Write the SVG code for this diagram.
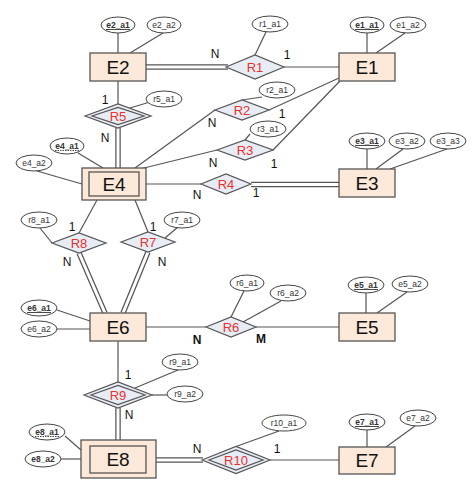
<svg xmlns="http://www.w3.org/2000/svg" width="474" height="493" viewBox="0 0 474 493">
<style>
.ent{fill:#fde9d9;stroke:#555;stroke-width:1.3}
.rel{fill:#e8ecf5;stroke:#555;stroke-width:1.2}
.att{fill:#fff;stroke:#444;stroke-width:1}
.ln{stroke:#555;stroke-width:1.2;fill:none}
.dbo{stroke:#555;stroke-width:5.5;fill:none}
.dbi{stroke:#fff;stroke-width:3;fill:none}
.et{font-family:"Liberation Sans",Arial,sans-serif;font-size:19px;fill:#111;text-anchor:middle;dominant-baseline:central}
.rt{font-family:"Liberation Sans",Arial,sans-serif;font-size:13px;fill:#e8322d;text-anchor:middle;dominant-baseline:central}
.at{font-family:"Liberation Sans",Arial,sans-serif;font-size:8.5px;fill:#333;text-anchor:middle;dominant-baseline:central}
.key{font-weight:bold}
.ul{stroke:#333;stroke-width:0.9}
.uld{stroke:#333;stroke-width:0.9;stroke-dasharray:1.5 1}
.ct{font-family:"Liberation Sans",Arial,sans-serif;font-size:12px;fill:#111;text-anchor:middle;dominant-baseline:central}
.bold{font-weight:bold}
</style>
<rect width="474" height="493" fill="#fff"/>

<g id="connectors">
  <!-- attribute lines -->
  <line class="ln" x1="118" y1="33" x2="118" y2="53"/>
  <line class="ln" x1="163" y1="33" x2="130" y2="53"/>
  <line class="ln" x1="367" y1="33" x2="367" y2="53"/>
  <line class="ln" x1="405" y1="33" x2="376" y2="53"/>
  <line class="ln" x1="266" y1="32" x2="255" y2="55"/>
  <line class="ln" x1="130" y1="108" x2="150" y2="102"/>
  <line class="ln" x1="262" y1="97" x2="242" y2="100"/>
  <line class="ln" x1="250" y1="134" x2="245" y2="140"/>
  <line class="ln" x1="367" y1="149" x2="367" y2="169"/>
  <line class="ln" x1="403" y1="149" x2="376" y2="169"/>
  <line class="ln" x1="447" y1="149" x2="390" y2="169"/>
  <line class="ln" x1="78" y1="153" x2="103" y2="168"/>
  <line class="ln" x1="37" y1="171" x2="82" y2="184"/>
  <line class="ln" x1="40" y1="228" x2="52" y2="243"/>
  <line class="ln" x1="178" y1="227" x2="165" y2="238"/>
  <line class="ln" x1="57" y1="310" x2="90" y2="321"/>
  <line class="ln" x1="57" y1="329" x2="90" y2="329"/>
  <line class="ln" x1="366" y1="293" x2="366" y2="313"/>
  <line class="ln" x1="407" y1="292" x2="377" y2="313"/>
  <line class="ln" x1="244" y1="291" x2="231" y2="317"/>
  <line class="ln" x1="281" y1="301" x2="243" y2="322"/>
  <line class="ln" x1="178" y1="370" x2="135" y2="388"/>
  <line class="ln" x1="152" y1="395" x2="167" y2="395"/>
  <line class="ln" x1="65" y1="436" x2="81" y2="450"/>
  <line class="ln" x1="61" y1="459" x2="81" y2="459"/>
  <line class="ln" x1="279" y1="431" x2="236" y2="446.5"/>
  <line class="ln" x1="367" y1="430" x2="367" y2="447"/>
  <line class="ln" x1="415" y1="426" x2="386" y2="447"/>

  <!-- relationship lines -->
  <line class="ln" x1="284" y1="67" x2="339" y2="67"/>
  <line class="ln" x1="118" y1="81" x2="118" y2="104"/>
  <line class="ln" x1="135" y1="168" x2="215" y2="110"/>
  <line class="ln" x1="269" y1="110" x2="339" y2="78"/>
  <line class="ln" x1="140" y1="169" x2="217" y2="150"/>
  <line class="ln" x1="273" y1="150" x2="340" y2="81"/>
  <line class="ln" x1="146" y1="184" x2="201" y2="184"/>
  <line class="ln" x1="97" y1="200" x2="79" y2="233"/>
  <line class="ln" x1="135" y1="200" x2="148" y2="232"/>
  <line class="ln" x1="146" y1="327" x2="206" y2="327"/>
  <line class="ln" x1="256" y1="327" x2="339" y2="327"/>
  <line class="ln" x1="118" y1="341" x2="118" y2="382"/>
  <line class="ln" x1="270" y1="460" x2="339" y2="460"/>

  <!-- double (total participation) lines -->
  <path class="dbo" d="M146 67 H228 M118 128 V168 M251 184.5 H339 M79 253 L105 313 M148 252 L123 313 M118 408 V440 M156 460 H203"/>
  <path class="dbi" d="M146 67 H228 M118 128 V168 M251 184.5 H339 M79 253 L105 313 M148 252 L123 313 M118 408 V440 M156 460 H203"/>
</g>

<!-- Entities -->
<g id="E2"><rect class="ent" x="90" y="53" width="56" height="28"/><text class="et" x="118" y="67">E2</text></g>
<g id="E1"><rect class="ent" x="339" y="53" width="56" height="28"/><text class="et" x="367" y="67">E1</text></g>
<g id="E4"><rect class="ent" x="82" y="168" width="64" height="32"/><rect class="ent" x="89" y="172" width="50" height="24"/><text class="et" x="114" y="184">E4</text></g>
<g id="E3"><rect class="ent" x="339" y="169" width="56" height="28"/><text class="et" x="367" y="183">E3</text></g>
<g id="E6"><rect class="ent" x="90" y="313" width="56" height="28"/><text class="et" x="118" y="327">E6</text></g>
<g id="E5"><rect class="ent" x="339" y="313" width="56" height="28"/><text class="et" x="367" y="327">E5</text></g>
<g id="E8"><rect class="ent" x="81" y="440" width="75" height="38"/><rect class="ent" x="90" y="446" width="56" height="27"/><text class="et" x="118" y="459">E8</text></g>
<g id="E7"><rect class="ent" x="339" y="447" width="56" height="27"/><text class="et" x="367" y="460">E7</text></g>

<!-- Relationships -->
<g id="R1"><polygon class="rel" points="226,67 255,55 284,67 255,79"/><text class="rt" x="255" y="67">R1</text></g>
<g id="R5"><polygon class="rel" points="85,116 118,104 151,116 118,128"/><polygon class="rel" points="92,116 118,107.5 144,116 118,124.5"/><text class="rt" x="118" y="116">R5</text></g>
<g id="R2"><polygon class="rel" points="215,110 242,100 269,110 242,120"/><text class="rt" x="242" y="110">R2</text></g>
<g id="R3"><polygon class="rel" points="217,150 245,140 273,150 245,160"/><text class="rt" x="245" y="150">R3</text></g>
<g id="R4"><polygon class="rel" points="201,184 226,174 251,184 226,194"/><text class="rt" x="226" y="184">R4</text></g>
<g id="R8"><polygon class="rel" points="52,243 79,233 106,243 79,253"/><text class="rt" x="79" y="243">R8</text></g>
<g id="R7"><polygon class="rel" points="121,242 148,232 175,242 148,252"/><text class="rt" x="148" y="242">R7</text></g>
<g id="R6"><polygon class="rel" points="206,327 231,317 256,327 231,337"/><text class="rt" x="231" y="327">R6</text></g>
<g id="R9"><polygon class="rel" points="84,395 118,382 152,395 118,408"/><polygon class="rel" points="91,395 118,385.5 145,395 118,404.5"/><text class="rt" x="118" y="395">R9</text></g>
<g id="R10"><polygon class="rel" points="202,460 236,446.5 270,460 236,473.5"/><polygon class="rel" points="209,460 236,450 263,460 236,470"/><text class="rt" x="236" y="460">R10</text></g>

<!-- Attributes -->
<g id="e2_a1"><ellipse class="att" cx="118" cy="25" rx="17" ry="8"/><text class="at key" x="118" y="25">e2_a1</text><line class="ul" x1="106" y1="29.5" x2="130" y2="29.5"/></g>
<g id="e2_a2"><ellipse class="att" cx="164" cy="25" rx="17" ry="8"/><text class="at" x="164" y="25">e2_a2</text></g>
<g id="e1_a1"><ellipse class="att" cx="367" cy="25" rx="17" ry="8"/><text class="at key" x="367" y="25">e1_a1</text><line class="ul" x1="355" y1="29.5" x2="379" y2="29.5"/></g>
<g id="e1_a2"><ellipse class="att" cx="408" cy="25" rx="18" ry="8"/><text class="at" x="408" y="25">e1_a2</text></g>
<g id="r1_a1"><ellipse class="att" cx="270" cy="24" rx="18" ry="8"/><text class="at" x="270" y="24">r1_a1</text></g>
<g id="r5_a1"><ellipse class="att" cx="164" cy="99" rx="18" ry="8"/><text class="at" x="164" y="99">r5_a1</text></g>
<g id="r2_a1"><ellipse class="att" cx="277" cy="90" rx="18" ry="8"/><text class="at" x="277" y="90">r2_a1</text></g>
<g id="r3_a1"><ellipse class="att" cx="268" cy="129" rx="18" ry="8"/><text class="at" x="268" y="129">r3_a1</text></g>
<g id="e3_a1"><ellipse class="att" cx="367" cy="141" rx="18" ry="8"/><text class="at key" x="367" y="141">e3_a1</text><line class="ul" x1="355" y1="145.5" x2="379" y2="145.5"/></g>
<g id="e3_a2"><ellipse class="att" cx="407" cy="141" rx="18" ry="8"/><text class="at" x="407" y="141">e3_a2</text></g>
<g id="e3_a3"><ellipse class="att" cx="448" cy="141" rx="18" ry="8"/><text class="at" x="448" y="141">e3_a3</text></g>
<g id="e4_a1"><ellipse class="att" cx="67" cy="146" rx="17" ry="8"/><text class="at key" x="67" y="146">e4_a1</text><line class="uld" x1="55" y1="150.5" x2="79" y2="150.5"/></g>
<g id="e4_a2"><ellipse class="att" cx="34" cy="163" rx="18" ry="8"/><text class="at" x="34" y="163">e4_a2</text></g>
<g id="r8_a1"><ellipse class="att" cx="39" cy="220" rx="18" ry="8"/><text class="at" x="39" y="220">r8_a1</text></g>
<g id="r7_a1"><ellipse class="att" cx="182" cy="220" rx="18" ry="8"/><text class="at" x="182" y="220">r7_a1</text></g>
<g id="e6_a1"><ellipse class="att" cx="39" cy="308" rx="18" ry="8"/><text class="at key" x="39" y="308">e6_a1</text><line class="ul" x1="27" y1="312.5" x2="51" y2="312.5"/></g>
<g id="e6_a2"><ellipse class="att" cx="39" cy="329" rx="18" ry="8"/><text class="at" x="39" y="329">e6_a2</text></g>
<g id="r6_a1"><ellipse class="att" cx="247" cy="283" rx="17" ry="8"/><text class="at" x="247" y="283">r6_a1</text></g>
<g id="r6_a2"><ellipse class="att" cx="288" cy="293" rx="18" ry="8"/><text class="at" x="288" y="293">r6_a2</text></g>
<g id="e5_a1"><ellipse class="att" cx="366" cy="285" rx="18" ry="8"/><text class="at key" x="366" y="285">e5_a1</text><line class="ul" x1="354" y1="289.5" x2="378" y2="289.5"/></g>
<g id="e5_a2"><ellipse class="att" cx="410" cy="284" rx="18" ry="8"/><text class="at" x="410" y="284">e5_a2</text></g>
<g id="r9_a1"><ellipse class="att" cx="180" cy="362" rx="18" ry="8"/><text class="at" x="180" y="362">r9_a1</text></g>
<g id="r9_a2"><ellipse class="att" cx="185" cy="394" rx="18" ry="8"/><text class="at" x="185" y="394">r9_a2</text></g>
<g id="e8_a1"><ellipse class="att" cx="47" cy="432" rx="18" ry="8"/><text class="at key" x="47" y="432">e8_a1</text><line class="uld" x1="35" y1="436.5" x2="59" y2="436.5"/></g>
<g id="e8_a2"><ellipse class="att" cx="43" cy="459" rx="18" ry="8"/><text class="at key" x="43" y="459">e8_a2</text></g>
<g id="r10_a1"><ellipse class="att" cx="284" cy="423" rx="22" ry="8"/><text class="at" x="284" y="423">r10_a1</text></g>
<g id="e7_a1"><ellipse class="att" cx="367" cy="422" rx="18" ry="8"/><text class="at key" x="367" y="422">e7_a1</text><line class="ul" x1="355" y1="426.5" x2="379" y2="426.5"/></g>
<g id="e7_a2"><ellipse class="att" cx="418" cy="418" rx="18" ry="8"/><text class="at" x="418" y="418">e7_a2</text></g>

<!-- Cardinalities -->
<g id="cardinalities">
  <text class="ct" x="215" y="54">N</text>
  <text class="ct" x="287" y="55">1</text>
  <text class="ct" x="105" y="100">1</text>
  <text class="ct" x="105" y="138">N</text>
  <text class="ct" x="212" y="123">N</text>
  <text class="ct" x="282" y="114">1</text>
  <text class="ct" x="213" y="163">N</text>
  <text class="ct" x="274" y="164">1</text>
  <text class="ct" x="197" y="195">N</text>
  <text class="ct" x="256" y="193">1</text>
  <text class="ct" x="72" y="227">1</text>
  <text class="ct" x="67" y="262">N</text>
  <text class="ct" x="153" y="227">1</text>
  <text class="ct" x="162" y="262">N</text>
  <text class="ct bold" x="197" y="340">N</text>
  <text class="ct bold" x="261" y="339">M</text>
  <text class="ct" x="128" y="375">1</text>
  <text class="ct" x="129" y="415">N</text>
  <text class="ct" x="197" y="449">N</text>
  <text class="ct" x="277" y="449">1</text>
</g>
</svg>
